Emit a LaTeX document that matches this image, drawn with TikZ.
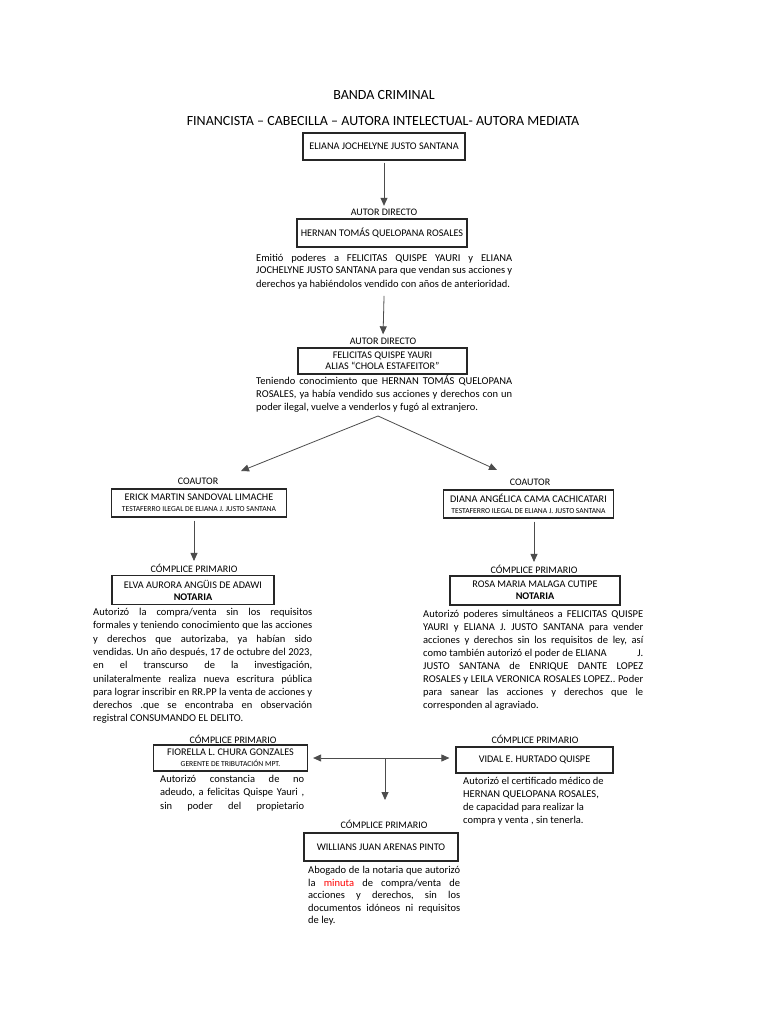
\documentclass[tikz,border=0pt]{standalone}
\usepackage{fontspec}
\setmainfont{Carlito}
\usetikzlibrary{arrows.meta}
\newcommand\jl[1]{\hbox to\hsize{\spaceskip=0pt\xspaceskip=0pt\frenchspacing #1}}
\newcommand\lastln[1]{\hbox{\spaceskip=0pt\xspaceskip=0pt\frenchspacing #1}}
\newcommand\smalltxt[1]{{\fontsize{7.6}{9}\selectfont #1}}
\begin{document}
\begin{tikzpicture}[x=1pt,y=-1pt,
  box/.style={draw=black!85, line width=1.2pt, inner sep=0pt, align=center, font=\fontsize{10.2}{11}\selectfont},
  lbl/.style={inner sep=0pt, anchor=base, font=\fontsize{10}{12}\selectfont},
  ttl/.style={inner sep=0pt, anchor=base, font=\fontsize{14}{16}\selectfont},
  para/.style={inner sep=0pt, anchor=base west, align=justify, font=\fontsize{10.5}{#1}\selectfont},
  para/.default=13,
  arr/.style={draw=black!70, line width=0.8pt, -{Triangle[width=7pt,length=8pt]}}]
\fill[white] (0,0) rectangle (768,1024);
\useasboundingbox (0,0) rectangle (768,1024);

% titles
\node[ttl] (t1) at (384,99.5) {BANDA CRIMINAL};
\node[ttl] (t2) at (383,126) {FINANCISTA – CABECILLA – AUTORA INTELECTUAL- AUTORA MEDIATA};

% level 1
\node[box, minimum width=162, minimum height=27] (b1) at (384,146.5) {ELIANA JOCHELYNE JUSTO SANTANA};
\node[lbl] (ad1) at (384,215.5) {AUTOR DIRECTO};
\node[box, minimum width=170, minimum height=28] (b2) at (382,233) {HERNAN TOMÁS QUELOPANA ROSALES};
\node[para, text width=256] (p1) at (256,261) {%
\jl{Emitió poderes a FELICITAS QUISPE YAURI y ELIANA}
\jl{JOCHELYNE JUSTO SANTANA para que vendan sus acciones y}
\lastln{derechos ya habiéndolos vendido con años de anterioridad.}};

\node[lbl] (ad2) at (383,344) {AUTOR DIRECTO};
\node[box, minimum width=169, minimum height=26] (b3) at (382.5,361) {FELICITAS QUISPE YAURI\\ALIAS “CHOLA ESTAFEITOR”};
\node[para, text width=256] (p2) at (256,384.5) {%
\jl{Teniendo conocimiento que HERNAN TOMÁS QUELOPANA}
\jl{ROSALES, ya había vendido sus acciones y derechos con un}
\lastln{poder ilegal, vuelve a venderlos y fugó al extranjero.}};

\coordinate (apex) at (378,416);
\coordinate (tipL) at (241,471);
\coordinate (tipR) at (497,470);

% coautores
\node[lbl] (coaL) at (198,484.5) {COAUTOR};
\node[lbl] (coaR) at (530,485.5) {COAUTOR};
\node[box, minimum width=175, minimum height=28] (b4) at (199,503) {ERICK MARTIN SANDOVAL LIMACHE\\\smalltxt{TESTAFERRO ILEGAL DE ELIANA J. JUSTO SANTANA}};
\node[box, minimum width=170, minimum height=28] (b5) at (528.5,504) {DIANA ANGÉLICA CAMA CACHICATARI\\\smalltxt{TESTAFERRO ILEGAL DE ELIANA J. JUSTO SANTANA}};

% notarias
\node[lbl] (cpL) at (194,572.5) {CÓMPLICE PRIMARIO};
\node[lbl] (cpR) at (534,573.5) {CÓMPLICE PRIMARIO};
\node[box, minimum width=162, minimum height=29] (b6) at (193,590) {ELVA AURORA ANGÜIS DE ADAWI\\[1pt]\textbf{NOTARIA}};
\node[box, minimum width=170, minimum height=29] (b7) at (535,590.5) {ROSA MARIA MALAGA CUTIPE\\[1pt]\textbf{NOTARIA}};

\node[para=13.3, text width=219] (p3) at (93,615.5) {%
\jl{Autorizó la compra/venta sin los requisitos}
\jl{formales y teniendo conocimiento que las acciones}
\jl{y derechos que autorizaba, ya habían sido}
\jl{vendidas. Un año después, 17 de octubre del 2023,}
\jl{en el transcurso de la investigación,}
\jl{unilateralmente realiza nueva escritura pública}
\jl{para lograr inscribir en RR.PP la venta de acciones y}
\jl{derechos .que se encontraba en observación}
\lastln{registral CONSUMANDO EL DELITO.}};

\node[para=13, text width=220] (p4) at (423,617.5) {%
\jl{Autorizó poderes simultáneos a FELICITAS QUISPE}
\jl{YAURI y ELIANA J. JUSTO SANTANA para vender}
\jl{acciones y derechos sin los requisitos de ley, así}
\jl{como también autorizó el poder de ELIANA\hfill J.}
\jl{JUSTO SANTANA de ENRIQUE DANTE LOPEZ}
\jl{ROSALES y LEILA VERONICA ROSALES LOPEZ.. Poder}
\jl{para sanear las acciones y derechos que le}
\lastln{corresponden al agraviado.}};

% bottom row
\node[lbl] (cp8) at (233,743.5) {CÓMPLICE PRIMARIO};
\node[box, minimum width=154, minimum height=26] (b8) at (230.5,758) {FIORELLA L. CHURA GONZALES\\\smalltxt{GERENTE DE TRIBUTACIÓN MPT.}};
\node[para=13.5, text width=144] (p5) at (160,782) {%
\jl{Autorizó constancia de no}
\jl{adeudo, a felicitas Quispe Yauri ,}
\jl{sin poder del propietario}};

\node[lbl] (cp9) at (535,743.5) {CÓMPLICE PRIMARIO};
\node[box, minimum width=157, minimum height=26] (b9) at (534.5,760) {VIDAL E. HURTADO QUISPE};
\node[para=13, text width=170] (p6) at (463,784) {%
\lastln{Autorizó el certificado médico de}
\lastln{HERNAN QUELOPANA ROSALES,}
\lastln{de capacidad para realizar la}
\lastln{compra y venta , sin tenerla.}};

\coordinate (hub) at (385,758);
\coordinate (tipD) at (385,800);

\node[lbl] (cp10) at (384,828.5) {CÓMPLICE PRIMARIO};
\node[box, minimum width=154, minimum height=28] (b10) at (381,847) {WILLIANS JUAN ARENAS PINTO};
\node[para=12.5, text width=152] (p7) at (308,873.5) {%
\jl{Abogado de la notaria que autorizó}
\jl{la \textcolor{red}{minuta} de compra/venta de}
\jl{acciones y derechos, sin los}
\jl{documentos idóneos ni requisitos}
\lastln{de ley.}};

% connectors
\draw[arr, shorten <=2pt, shorten >=3pt] (b1.south) -- (ad1.north);
\draw[arr, shorten <=7pt, shorten >=3pt] (p1.south) -- (ad2.north);
\draw[arr] (apex) -- (tipL);
\draw[arr] (apex) -- (tipR);
\draw[arr, shorten <=3pt, shorten >=3pt] (cpL.north |- b4.south) -- (cpL.north);
\draw[arr, shorten <=3pt, shorten >=3pt] (cpR.north |- b5.south) -- (cpR.north);
\draw[arr, shorten >=5pt] (hub) -- (b8.east |- hub);
\draw[arr, shorten >=6pt] (hub) -- (b9.west |- hub);
\draw[arr] (hub) -- (tipD);
\end{tikzpicture}
\end{document}
